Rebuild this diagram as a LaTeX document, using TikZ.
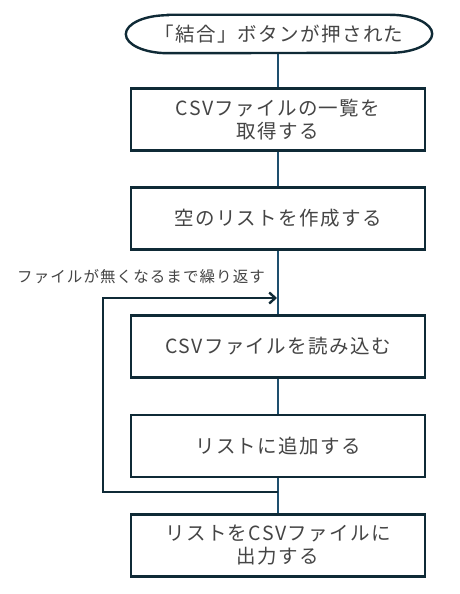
\documentclass[tikz,border=0pt]{standalone}
\usepackage{fontspec}
\newfontfamily\jp[LetterSpace=7]{Noto Sans CJK JP}
\usetikzlibrary{arrows.meta,backgrounds}
\definecolor{bordc}{HTML}{0F2A36}
\definecolor{linkc}{HTML}{1E4F6E}
\definecolor{txtc}{HTML}{454545}
\tikzset{
  procbox/.style={draw=bordc, line width=2.4pt, fill=white, minimum width=294pt, minimum height=62pt,
    align=center, text=txtc, font=\jp\fontsize{19.5}{23}\selectfont, inner sep=0pt},
  link/.style={draw=linkc, line width=2pt},
  loopline/.style={draw=bordc, line width=2.4pt},
}
\begin{document}
\begin{tikzpicture}[x=1pt,y=-1pt]
\useasboundingbox (0,0) rectangle (460,594);
% terminator
\node[minimum width=306pt, minimum height=38pt, inner sep=0pt, text=txtc, font=\jp\fontsize{19.5}{23}\selectfont] (start) at (279,34) {「結合」ボタンが押された};
\node[procbox] (b1) at (278,119.5) {CSVファイルの一覧を\\取得する};
\node[procbox] (b2) at (278,218.5) {空のリストを作成する};
\node[procbox] (b3) at (278,346.5) {CSVファイルを読み込む};
\node[procbox] (b4) at (278,446) {リストに追加する};
\node[procbox] (b5) at (278,545.5) {リストをCSVファイルに\\出力する};
\node[anchor=west, inner sep=0pt, text=txtc, font=\jp\fontsize{15.5}{19}\selectfont] (lbl) at (17,277) {ファイルが無くなるまで繰り返す};
\coordinate (ltop) at (278,298);
\coordinate (lbot) at (278,492);
\coordinate (lbl1) at (103,492);
\coordinate (ltl) at (103,298);
\begin{scope}[on background layer]
\fill[white] (0,0) rectangle (460,594);
% links
\draw[link] (start.south -| b1.north) -- (b1.north);
\draw[link] (b1.south) -- (b2.north);
\draw[link] (b2.south) -- (b3.north);
\draw[link] (b3.south) -- (b4.north);
\draw[link] (b4.south) -- (b5.north);
% terminator outline
\draw[draw=bordc, line width=2.4pt, fill=white]
  ([xshift=42pt]start.north west) -- ([xshift=-42pt]start.north east)
  arc[start angle=90, end angle=-90, x radius=42pt, y radius=19pt]
  -- ([xshift=42pt]start.south west)
  arc[start angle=270, end angle=90, x radius=42pt, y radius=19pt] -- cycle;
\end{scope}
% loop
\draw[loopline, -{Straight Barb[length=6pt,width=11pt,line width=2.4pt]}] (lbot) -- (lbl1) -- (ltl) -- ([xshift=-1pt]ltop);
\end{tikzpicture}
\end{document}
